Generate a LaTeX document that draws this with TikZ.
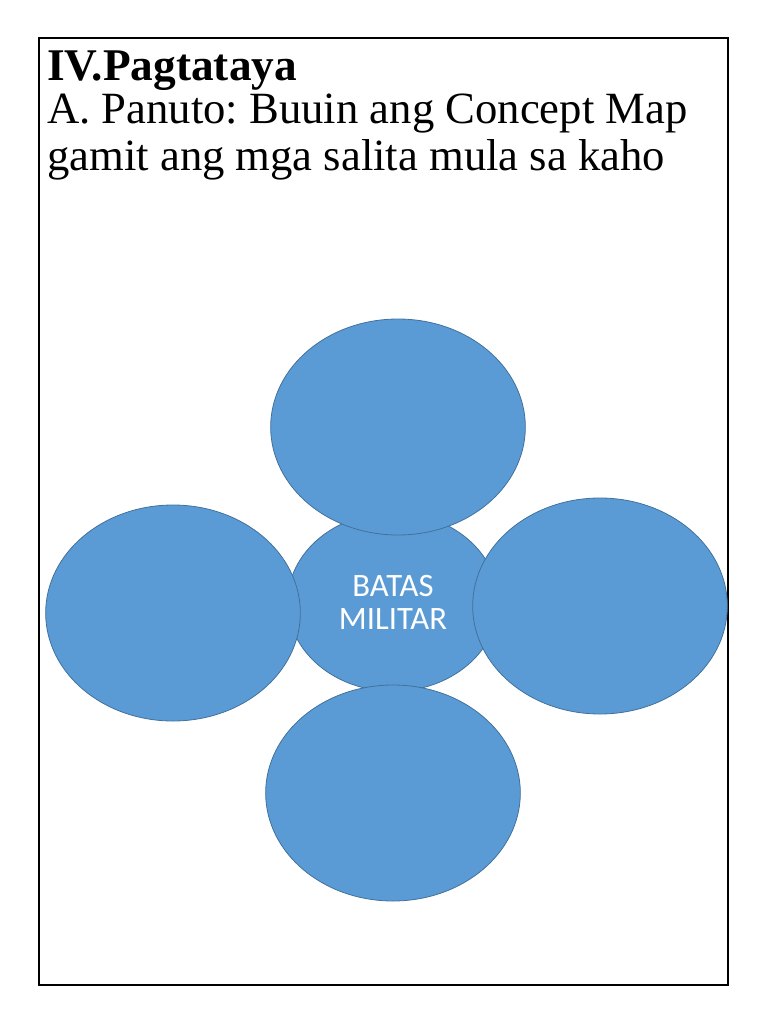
\documentclass[tikz,border=0pt]{standalone}
\usepackage{fontspec}
\setmainfont{Liberation Serif}
\newfontfamily\calibfont{Carlito}
\usepackage{tikz}
\usetikzlibrary{shapes.geometric,positioning}
\definecolor{bubblefill}{HTML}{5B9BD5}
\definecolor{bubbleline}{HTML}{41719C}
\frenchspacing

\begin{document}
\begin{tikzpicture}[
		x=0.75pt, y=-0.75pt,
		bubble/.style={ellipse, draw=bubbleline, fill=bubblefill, line width=0.6pt, inner sep=0pt, minimum width=191pt, minimum height=162pt},
		hub/.style={ellipse, draw=bubbleline, fill=bubblefill, line width=0.6pt, inner sep=0pt, minimum width=158pt, minimum height=134pt, align=center, text=white, font=\calibfont\fontsize{24.5}{24.75}\selectfont}
		]
		\useasboundingbox (0,0) rectangle (768,1024);
		% Draw frame
		\draw[line width=0.8pt] (39,38) rectangle (728,985);
		
		% Heading
		\node (title) [anchor=base west, inner sep=0pt, font=\bfseries\fontsize{34}{40}\selectfont] at (47,80) {IV.Pagtataya};
		\node (panuto) [anchor=base west, inner sep=0pt, align=left, font=\fontsize{33.5}{35.25}\selectfont] at (47,170) {A. Panuto: Buuin ang Concept Map\\gamit ang mga salita mula sa kaho};
		
		% Concept map
		\node (batas) [hub] at (393,602) {BATAS\\MILITAR};
		\node (top) [bubble] at (398,427) {};
		\node (left) [bubble] at (173,613) {};
		\node (right) [bubble] at (600,606) {};
		\node (bottom) [bubble] at (393,793) {};
		\end{tikzpicture}
\end{document}
